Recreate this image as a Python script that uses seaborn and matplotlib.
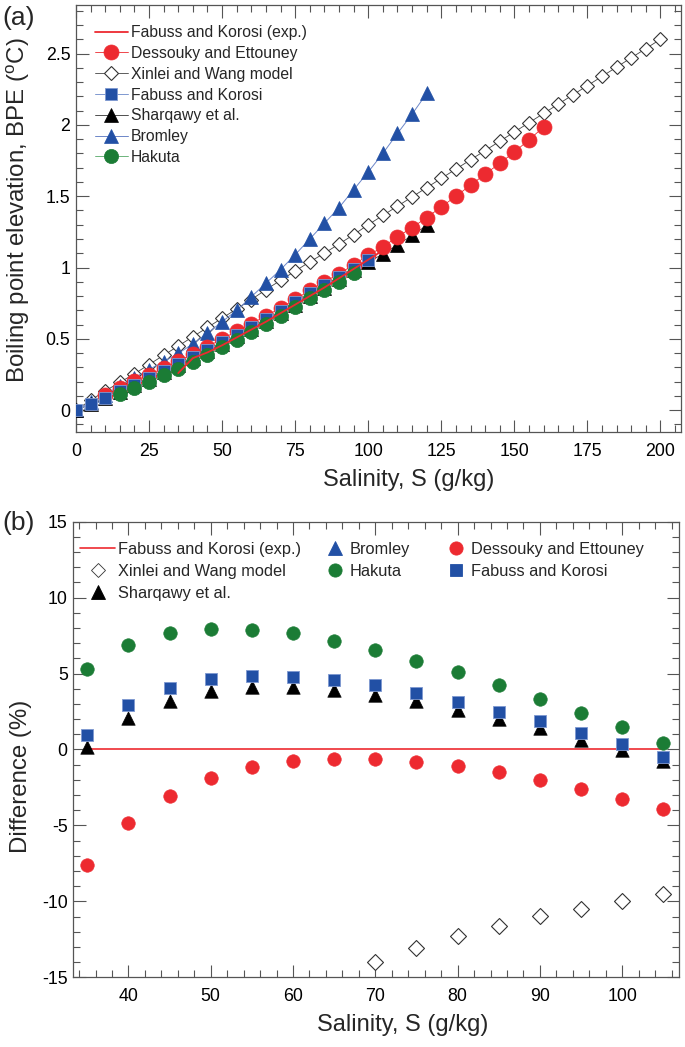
import matplotlib
matplotlib.use('Agg')
import matplotlib.pyplot as plt
import seaborn as sns
from matplotlib.ticker import MultipleLocator, FuncFormatter
from matplotlib.lines import Line2D

sns.set_theme(style='ticks')
plt.rcParams['font.family'] = ['Liberation Sans', 'DejaVu Sans']
plt.rcParams['mathtext.fontset'] = 'custom'
plt.rcParams['mathtext.rm'] = 'Liberation Sans'
plt.rcParams['axes.unicode_minus'] = False

RED = '#ED2A30'
BLUE = '#2250A5'
GREEN = '#1B7C35'
GREY = '#555555'

# (a) boiling point elevation vs salinity
s_exp = [35, 40, 45, 50, 55, 60, 65, 70, 75, 80, 85, 90, 95, 100, 105]
bpe_exp = [0.26, 0.365, 0.405, 0.455, 0.51, 0.565, 0.62, 0.68, 0.74, 0.80, 0.86, 0.925, 0.99, 1.055, 1.12]

s_de = list(range(10, 161, 5))
bpe_de = [0.105, 0.155, 0.203, 0.25, 0.295, 0.342, 0.395, 0.445, 0.5, 0.553, 0.607, 0.66, 0.717,
          0.777, 0.84, 0.9, 0.955, 1.02, 1.085, 1.145, 1.215, 1.28, 1.35, 1.425, 1.5, 1.577,
          1.655, 1.73, 1.81, 1.895, 1.985]

s_xw = list(range(0, 201, 5))
bpe_xw = [0, 0.07, 0.135, 0.195, 0.255, 0.32, 0.385, 0.45, 0.515, 0.58, 0.645, 0.71, 0.775,
          0.845, 0.91, 0.975, 1.04, 1.10, 1.165, 1.23, 1.30, 1.365, 1.43, 1.495, 1.56, 1.625,
          1.69, 1.755, 1.82, 1.885, 1.95, 2.015, 2.08, 2.145, 2.21, 2.275, 2.34, 2.405, 2.47,
          2.535, 2.60]

s_fk = list(range(0, 101, 5))
bpe_fk = [0, 0.042, 0.086, 0.135, 0.18, 0.228, 0.275, 0.322, 0.372, 0.422, 0.475, 0.528, 0.583,
          0.638, 0.695, 0.756, 0.818, 0.876, 0.934, 0.993, 1.051]

s_sh = list(range(0, 121, 5))
bpe_sh = [0, 0.04, 0.082, 0.128, 0.174, 0.22, 0.267, 0.315, 0.364, 0.414, 0.465, 0.517, 0.57,
          0.625, 0.682, 0.74, 0.8, 0.86, 0.92, 0.98, 1.037, 1.095, 1.158, 1.225, 1.295]

s_br = list(range(0, 121, 5))
bpe_br = [0, 0.055, 0.11, 0.17, 0.228, 0.285, 0.34, 0.398, 0.465, 0.54, 0.62, 0.70, 0.795, 0.89,
          0.985, 1.09, 1.2, 1.31, 1.42, 1.545, 1.67, 1.80, 1.94, 2.075, 2.22]

s_hk = list(range(15, 96, 5))
bpe_hk = [0.112, 0.158, 0.2, 0.245, 0.292, 0.339, 0.388, 0.44, 0.493, 0.548, 0.605, 0.663, 0.722,
          0.783, 0.842, 0.902, 0.965]

# (b) difference from experiment (%)
s_diff = [35, 40, 45, 50, 55, 60, 65, 70, 75, 80, 85, 90, 95, 100, 105]
d_exp = [0.0] * len(s_diff)
d_de = [-7.6, -4.85, -3.05, -1.9, -1.15, -0.75, -0.6, -0.6, -0.8, -1.1, -1.5, -2.0, -2.6, -3.25, -3.9]
d_fk = [0.95, 2.9, 4.05, 4.65, 4.85, 4.8, 4.6, 4.25, 3.75, 3.15, 2.5, 1.85, 1.1, 0.35, -0.5]
d_sh = [0.15, 2.05, 3.22, 3.85, 4.12, 4.12, 3.95, 3.62, 3.2, 2.63, 2.03, 1.4, 0.64, -0.02, -0.78]
d_hk = [5.3, 6.85, 7.65, 7.95, 7.9, 7.65, 7.15, 6.55, 5.85, 5.1, 4.25, 3.35, 2.4, 1.45, 0.45]
s_xw_diff = [70, 75, 80, 85, 90, 95, 100, 105]
d_xw = [-14.0, -13.1, -12.28, -11.62, -10.98, -10.5, -9.95, -9.52]

fig = plt.figure(figsize=(6.85, 10.47), dpi=100)
ax1 = fig.add_axes([0.1109, 0.5871, 0.8832, 0.4081])
ax2 = fig.add_axes([0.1070, 0.0666, 0.8842, 0.4351])

# ---- panel (a)
sns.lineplot(x=s_xw, y=bpe_xw, ax=ax1, color='#444444', lw=0.6, marker='D', markersize=7.6,
             markerfacecolor='white', markeredgecolor='#333333', markeredgewidth=0.8,
             label='Xinlei and Wang model', zorder=2)
sns.lineplot(x=s_br, y=bpe_br, ax=ax1, color='#6C86C8', lw=0.7, marker='^', markersize=10.5,
             markerfacecolor=BLUE, markeredgecolor=BLUE, markeredgewidth=0.5,
             label='Bromley', zorder=3)
sns.lineplot(x=s_sh, y=bpe_sh, ax=ax1, color='#333333', lw=0.6, marker='^', markersize=10.5,
             markerfacecolor='black', markeredgecolor='black', markeredgewidth=0.5,
             label='Sharqawy et al.', zorder=4)
sns.lineplot(x=s_de, y=bpe_de, ax=ax1, color=RED, lw=0.6, marker='o', markersize=10.8,
             markerfacecolor=RED, markeredgecolor=RED, markeredgewidth=0.5,
             label='Dessouky and Ettouney', zorder=5)
sns.lineplot(x=s_fk, y=bpe_fk, ax=ax1, color='#7E98D0', lw=0.7, marker='s', markersize=9,
             markerfacecolor=BLUE, markeredgecolor='#7E98D0', markeredgewidth=0.6,
             label='Fabuss and Korosi', zorder=6)
sns.lineplot(x=s_hk, y=bpe_hk, ax=ax1, color='#55A866', lw=0.6, marker='o', markersize=10.2,
             markerfacecolor=GREEN, markeredgecolor=GREEN, markeredgewidth=0.5,
             label='Hakuta', zorder=7)
sns.lineplot(x=s_exp, y=bpe_exp, ax=ax1, color=RED, lw=1.3,
             label='Fabuss and Korosi (exp.)', zorder=8)

ax1.set_xlim(0, 207)
ax1.set_ylim(-0.155, 2.84)
ax1.xaxis.set_major_locator(MultipleLocator(25))
ax1.xaxis.set_minor_locator(MultipleLocator(5))
ax1.yaxis.set_major_locator(MultipleLocator(0.5))
ax1.yaxis.set_minor_locator(MultipleLocator(0.1))
ax1.set_xlabel('Salinity, S (g/kg)', fontsize=17)
ax1.set_ylabel(r'Boiling point elevation, BPE ($^{\mathrm{o}}$C)', fontsize=17.3)
ax1.xaxis.set_label_coords(0.55, -0.085)
ax1.yaxis.set_label_coords(-0.073, 0.52)

order_a = ['Fabuss and Korosi (exp.)', 'Dessouky and Ettouney', 'Xinlei and Wang model',
           'Fabuss and Korosi', 'Sharqawy et al.', 'Bromley', 'Hakuta']
h, l = ax1.get_legend_handles_labels()
hd = dict(zip(l, h))
ax1.legend([hd[k] for k in order_a], order_a, loc='upper left', bbox_to_anchor=(0.031, 0.953),
           frameon=False, fontsize=11.3, handlelength=2.1, handletextpad=0.2,
           labelspacing=0.37, borderpad=0, borderaxespad=0)

# ---- panel (b)
ax2.plot(s_diff, d_exp, color=RED, lw=1.2, zorder=2)
sns.scatterplot(x=s_diff, y=d_de, ax=ax2, marker='o', s=95, color=RED, edgecolor=RED,
                linewidth=0.4, zorder=3)
sns.scatterplot(x=s_xw_diff, y=d_xw, ax=ax2, marker='D', s=66, facecolor='white',
                edgecolor='#333333', linewidth=0.8, zorder=3)
sns.scatterplot(x=s_diff, y=d_sh, ax=ax2, marker='^', s=95, color='black', edgecolor='black',
                linewidth=0.4, zorder=4)
sns.scatterplot(x=s_diff, y=d_fk, ax=ax2, marker='s', s=80, color=BLUE, edgecolor='#7E98D0',
                linewidth=0.6, zorder=5)
sns.scatterplot(x=s_diff, y=d_hk, ax=ax2, marker='o', s=95, color=GREEN, edgecolor=GREEN,
                linewidth=0.4, zorder=6)

ax2.set_xlim(33.3, 106.9)
ax2.set_ylim(-15, 15)
ax2.xaxis.set_major_locator(MultipleLocator(10))
ax2.xaxis.set_minor_locator(MultipleLocator(2))
ax2.yaxis.set_major_locator(MultipleLocator(5))
ax2.yaxis.set_minor_locator(MultipleLocator(1))
ax2.set_xlabel('Salinity, S (g/kg)', fontsize=17)
ax2.set_ylabel('Difference (%)', fontsize=17.3)
ax2.xaxis.set_label_coords(0.544, -0.08)
ax2.yaxis.set_label_coords(-0.068, 0.44)

mk = dict(linestyle='none', markeredgewidth=0.6)
h_exp = Line2D([], [], color=RED, lw=1.2)
h_xw = Line2D([], [], marker='D', markersize=7.5, markerfacecolor='white', markeredgecolor='#333333', **mk)
h_sh = Line2D([], [], marker='^', markersize=9.5, color='black', **mk)
h_br = Line2D([], [], marker='^', markersize=9.5, color=BLUE, **mk)
h_hk = Line2D([], [], marker='o', markersize=9.5, color=GREEN, **mk)
h_de = Line2D([], [], marker='o', markersize=9.5, color=RED, **mk)
h_fk = Line2D([], [], marker='s', markersize=8.5, color=BLUE, **mk)

leg_kw = dict(loc='upper left', frameon=False, fontsize=11.8, borderpad=0, borderaxespad=0,
              labelspacing=0.42)
leg1 = ax2.legend([h_exp, h_xw, h_sh],
                  ['Fabuss and Korosi (exp.)', 'Xinlei and Wang model', 'Sharqawy et al.'],
                  bbox_to_anchor=(0.011, 0.956), handlelength=2.15, handletextpad=0.15, **leg_kw)
ax2.add_artist(leg1)
leg2 = ax2.legend([h_br, h_hk], ['Bromley', 'Hakuta'],
                  bbox_to_anchor=(0.419, 0.956), handlelength=1.0, handletextpad=0.35, **leg_kw)
ax2.add_artist(leg2)
ax2.legend([h_de, h_fk], ['Dessouky and Ettouney', 'Fabuss and Korosi'],
           bbox_to_anchor=(0.618, 0.956), handlelength=1.0, handletextpad=0.4, **leg_kw)

fmt = FuncFormatter(lambda v, p: f'{v:g}')
for ax in (ax1, ax2):
    ax.yaxis.set_major_formatter(fmt)
    ax.xaxis.set_major_formatter(fmt)
    ax.tick_params(which='both', direction='in', top=True, right=True, color=GREY, width=0.8,
                   labelsize=12.8, labelcolor='black')
    ax.tick_params(which='major', length=9)
    ax.tick_params(which='minor', length=5)
    ax.tick_params(axis='x', which='both', pad=8)
    ax.tick_params(axis='y', which='both', pad=4)
    for sp in ax.spines.values():
        sp.set_color(GREY)
        sp.set_linewidth(0.9)

fig.text(0.004, 1 - 18.5 / 1047, '(a)', fontsize=19, va='center', ha='left')
fig.text(0.004, 1 - 523.3 / 1047, '(b)', fontsize=19, va='center', ha='left')

fig.savefig('out.png', dpi=100)
